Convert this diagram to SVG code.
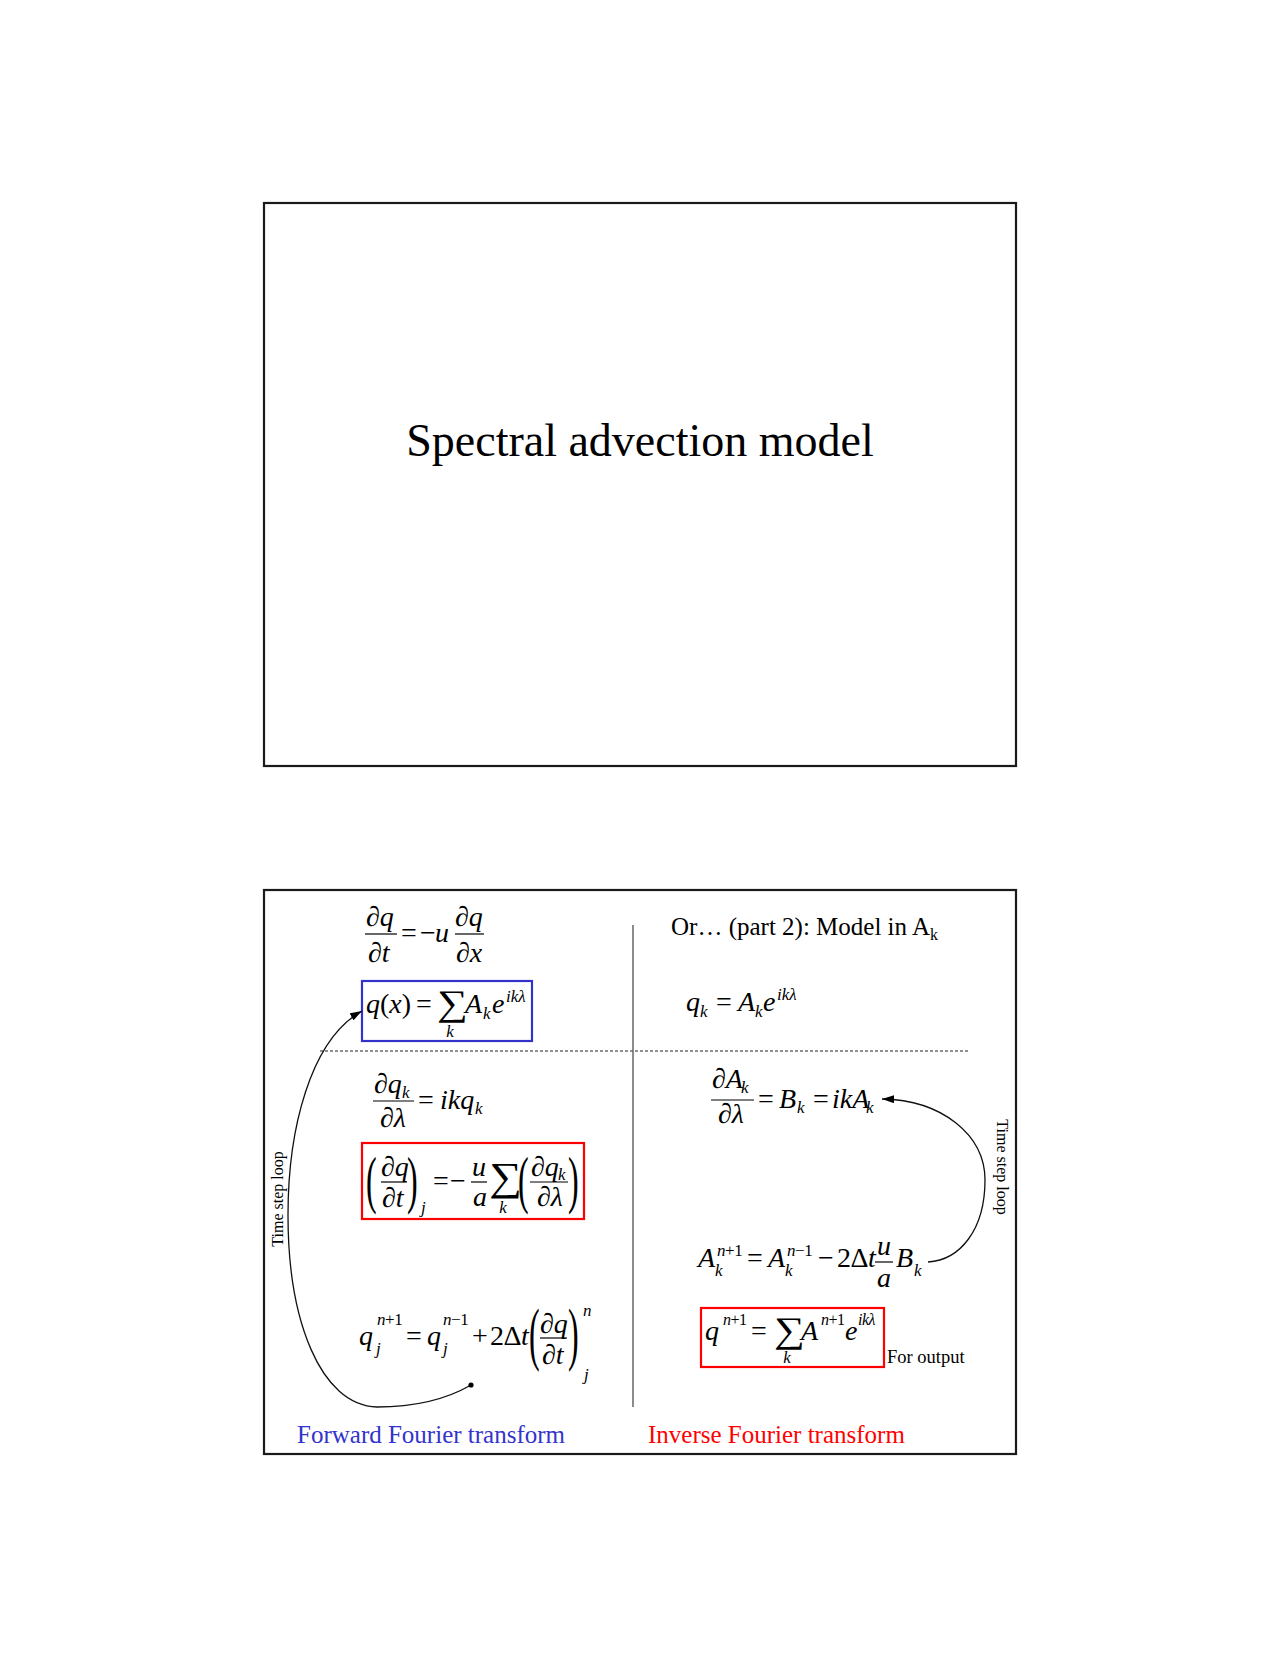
<svg xmlns="http://www.w3.org/2000/svg" width="1280" height="1656" viewBox="0 0 1280 1656">
<style>
text{font-family:"Liberation Serif","Times New Roman","DejaVu Serif",serif;fill:#000}
.m{font-size:28px;font-style:italic}
.r{font-style:normal}
.s{font-size:17px;font-style:italic}
.sr{font-size:17px;font-style:normal;letter-spacing:-0.4px}
.ss{font-size:16px;letter-spacing:-0.5px}
.big{font-size:32px;font-style:normal}
.sum{font-size:36px;font-style:normal}
.bar{stroke:#000;stroke-width:1.2}
.frame{fill:none;stroke:#1a1a1a;stroke-width:2.2}
.blue{fill:none;stroke:#3333cc;stroke-width:2.2}
.red{fill:none;stroke:#ff0000;stroke-width:2.2}
.conn{fill:none;stroke:#111;stroke-width:1.3}
</style>
<defs>
<marker id="arr" viewBox="0 0 12 8" refX="12" refY="4" markerWidth="12" markerHeight="8" markerUnits="userSpaceOnUse" orient="auto"><path d="M0,0 L12,4 L0,8 z" fill="#000"/></marker>
<marker id="dot" viewBox="0 0 6 6" refX="3" refY="3" markerWidth="6" markerHeight="6" markerUnits="userSpaceOnUse"><circle cx="3" cy="3" r="2.6" fill="#000"/></marker>
</defs>
<rect width="1280" height="1656" fill="#fff"/>

<g id="slide1">
<rect class="frame" x="264" y="203" width="752" height="563"/>
<text x="640" y="456" text-anchor="middle" style="font-size:46px">Spectral advection model</text>
</g>

<g id="slide2-frame">
<rect class="frame" x="264" y="890" width="752" height="564"/>
</g>

<g id="separators">
<line x1="320" y1="1051" x2="970" y2="1051" stroke="#222" stroke-width="1" stroke-dasharray="3,2"/>
<line x1="633" y1="925" x2="633" y2="1407" stroke="#666" stroke-width="1.5"/>
</g>

<g id="eq-advection">
<text class="m" x="366" y="926">∂q</text>
<line class="bar" x1="365" y1="934" x2="397" y2="934"/>
<text class="m" x="368" y="962">∂t</text>
<text class="m r" x="401" y="942">=</text>
<text class="m r" x="420" y="942">−</text>
<text class="m" x="435" y="942">u</text>
<line class="bar" x1="455" y1="934" x2="484" y2="934"/>
<text class="m" x="455" y="926">∂q</text>
<text class="m" x="456" y="962">∂x</text>
</g>

<g id="box-forward">
<rect class="blue" x="362" y="981" width="170" height="60"/>
<text class="m" x="366" y="1013">q<tspan class="r">(</tspan>x<tspan class="r">)</tspan></text>
<text class="m r" x="416" y="1013">=</text>
<text class="sum" transform="translate(437 1015) scale(1.2 1)">∑</text>
<text class="s" x="450" y="1037" text-anchor="middle">k</text>
<text class="m" x="465" y="1013">A</text>
<text class="s" x="483" y="1019">k</text>
<text class="m" x="492" y="1013">e</text>
<text class="s" x="506" y="1002">ikλ</text>
</g>

<g id="eq-derivative">
<text class="m" x="374" y="1093">∂q</text>
<text class="s" x="402" y="1098">k</text>
<line class="bar" x1="373" y1="1101" x2="414" y2="1101"/>
<text class="m" x="380" y="1127">∂λ</text>
<text class="m r" x="418" y="1109">=</text>
<text class="m" x="440" y="1109">ikq</text>
<text class="s" x="475" y="1114">k</text>
</g>

<g id="box-tendency">
<rect class="red" x="362" y="1143" width="222" height="76"/>
<text class="big" transform="translate(366 1201) scale(1 2)">(</text>
<text class="m" x="381" y="1176">∂q</text>
<line class="bar" x1="381" y1="1182" x2="407" y2="1182"/>
<text class="m" x="382" y="1207">∂t</text>
<text class="big" transform="translate(407 1201) scale(1 2)">)</text>
<text class="s" x="421" y="1213">j</text>
<text class="m r" x="433" y="1190">=</text>
<text class="m r" x="450" y="1190">−</text>
<text class="m" x="472" y="1176">u</text>
<line class="bar" x1="471" y1="1182" x2="487" y2="1182"/>
<text class="m" x="473" y="1206">a</text>
<text class="sum" style="font-size:40px" transform="translate(489 1190) scale(1.15 1)">∑</text>
<text class="s" x="503" y="1213" text-anchor="middle">k</text>
<text class="big" transform="translate(518 1201) scale(1 2)">(</text>
<text class="m" x="531" y="1176">∂q</text>
<text class="s" x="558" y="1180">k</text>
<line class="bar" x1="530" y1="1182" x2="568" y2="1182"/>
<text class="m" x="537" y="1206">∂λ</text>
<text class="big" transform="translate(568 1201) scale(1 2)">)</text>
</g>

<g id="eq-leapfrog">
<text class="m" x="359" y="1345">q</text>
<text class="sr" x="377" y="1325"><tspan class="s">n</tspan>+1</text>
<text class="s" x="376" y="1354">j</text>
<text class="m r" x="406" y="1345">=</text>
<text class="m" x="427" y="1345">q</text>
<text class="sr" x="443" y="1325"><tspan class="s">n</tspan>−1</text>
<text class="s" x="443" y="1354">j</text>
<text class="m r" x="472" y="1345">+</text>
<text class="m r" x="490" y="1345" style="letter-spacing:-0.5px">2Δ<tspan class="m">t</tspan></text>
<text class="big" transform="translate(529 1357) scale(1 2.2)">(</text>
<text class="m" x="540" y="1333">∂q</text>
<line class="bar" x1="540" y1="1338" x2="567" y2="1338"/>
<text class="m" x="542" y="1364">∂t</text>
<text class="big" transform="translate(568 1357) scale(1 2.2)">)</text>
<text class="s" x="583" y="1316">n</text>
<text class="s" x="584" y="1380">j</text>
</g>

<g id="label-loop-left">
<text x="283" y="1199" text-anchor="middle" transform="rotate(-90 283 1199)" style="font-size:16px">Time step loop</text>
</g>

<g id="label-forward">
<text x="297" y="1443" style="font-size:25px;fill:#3333cc">Forward Fourier transform</text>
</g>

<g id="title-part2">
<text x="671" y="935" style="font-size:25px">Or… (part 2): Model in A<tspan dy="5" style="font-size:16px">k</tspan></text>
</g>

<g id="eq-qk">
<text class="m" x="686" y="1011">q</text>
<text class="s" x="700" y="1017">k</text>
<text class="m r" x="716" y="1011">=</text>
<text class="m" x="738" y="1011">A</text>
<text class="s" x="755" y="1017">k</text>
<text class="m" x="763" y="1011">e</text>
<text class="s" x="777" y="1000">ikλ</text>
</g>

<g id="eq-dA">
<text class="m" x="712" y="1088">∂A</text>
<text class="s" x="741" y="1093">k</text>
<line class="bar" x1="711" y1="1100" x2="754" y2="1100"/>
<text class="m" x="718" y="1123">∂λ</text>
<text class="m r" x="758" y="1108">=</text>
<text class="m" x="779" y="1108">B</text>
<text class="s" x="797" y="1113">k</text>
<text class="m r" x="813" y="1108">=</text>
<text class="m" x="832" y="1108">ikA</text>
<text class="s" x="866" y="1113">k</text>
</g>

<g id="label-loop-right">
<text x="997" y="1167" text-anchor="middle" transform="rotate(90 997 1167)" style="font-size:16px">Time step loop</text>
</g>

<g id="eq-Anext">
<text class="m" x="698" y="1267">A</text>
<text class="sr" x="717" y="1256"><tspan class="s">n</tspan>+1</text>
<text class="s" x="715" y="1276">k</text>
<text class="m r" x="747" y="1267">=</text>
<text class="m" x="768" y="1267">A</text>
<text class="sr" x="787" y="1256"><tspan class="s">n</tspan>−1</text>
<text class="s" x="785" y="1276">k</text>
<text class="m r" x="818" y="1267">−</text>
<text class="m r" x="837" y="1267" style="letter-spacing:-0.5px">2Δ<tspan class="m">t</tspan></text>
<text class="m" x="877" y="1255">u</text>
<line class="bar" x1="875" y1="1262" x2="893" y2="1262"/>
<text class="m" x="877" y="1287">a</text>
<text class="m" x="896" y="1267">B</text>
<text class="s" x="914" y="1276">k</text>
</g>

<g id="box-inverse">
<rect class="red" x="701" y="1308" width="183" height="59"/>
<text class="m" x="705" y="1340">q</text>
<text class="sr ss" x="723" y="1325"><tspan class="s ss">n</tspan>+1</text>
<text class="m r" x="751" y="1340">=</text>
<text class="sum" transform="translate(774 1342) scale(1.2 1)">∑</text>
<text class="s" x="787" y="1363" text-anchor="middle">k</text>
<text class="m" x="801" y="1340">A</text>
<text class="sr ss" x="821" y="1325"><tspan class="s ss">n</tspan>+1</text>
<text class="m" x="845" y="1340">e</text>
<text class="s ss" x="858" y="1325">ikλ</text>
</g>

<g id="label-output">
<text x="887" y="1363" style="font-size:18.5px">For output</text>
</g>

<g id="label-inverse">
<text x="648" y="1443" style="font-size:25px;fill:#ff0000">Inverse Fourier transform</text>
</g>

<g id="connectors">
<path class="conn" d="M471,1385 C440,1403 405,1407 377,1407 C320,1405 288,1320 288,1215 C288,1130 310,1040 362,1011" marker-start="url(#dot)" marker-end="url(#arr)"/>
<path class="conn" d="M928,1262 C960,1260 985,1230 985,1180 C985,1135 942,1100 882,1099" marker-end="url(#arr)"/>
</g>
</svg>
